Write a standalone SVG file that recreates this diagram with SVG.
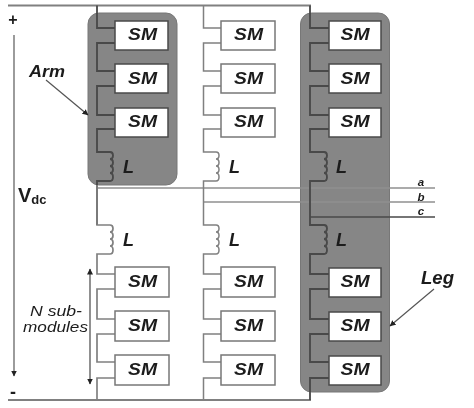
<svg xmlns="http://www.w3.org/2000/svg" width="474" height="408" viewBox="0 0 474 408">
<style>
text{font-family:"Liberation Sans",Arial,sans-serif;fill:#1c1c1c}
.sm{fill:#fff;stroke:#777;stroke-width:1.5}
.smd{fill:#fff;stroke:#4a4a4a;stroke-width:1.5}
.t{font-size:16.5px;font-style:italic;font-weight:bold;text-anchor:middle}
.l{font-size:18px;font-style:italic;font-weight:bold}
.c{fill:none;stroke:#808080;stroke-width:1.5}
.d{fill:none;stroke:#484848;stroke-width:1.8}
.w{fill:none;stroke:#909090;stroke-width:1.4}
.lab{font-style:italic;font-weight:bold;text-anchor:middle}
.p{font-size:11.5px;font-style:italic;font-weight:bold;text-anchor:middle}
.arm{fill:#868686;stroke:#777;stroke-width:1}
</style>
<defs>
<marker id="ah" markerWidth="7" markerHeight="7" refX="5.500" refY="3" orient="auto-start-reverse" markerUnits="userSpaceOnUse"><path d="M0 0L6 3L0 6z" fill="#222"/></marker>
<filter id="soft" x="0" y="0" width="100%" height="100%"><feGaussianBlur stdDeviation="0.5"/></filter>
</defs>
<g filter="url(#soft)">
<rect width="474" height="408" fill="#fff"/>
<g id="arm-highlight"><rect class="arm" x="88" y="13" width="89" height="172" rx="11"/></g>
<g id="leg-highlight"><rect class="arm" x="300.500" y="13" width="89" height="379" rx="11"/></g>
<g id="connectors">
<path class="c" d="M8 5.500H311M8 400H311" style="stroke-width:1.800"/>
<path class="w" d="M97 188H435M203.500 202H435"/>
<path class="d" d="M310 217H435" style="stroke-width:1.500"/>
<path class="d" d="M97 5.500V28H115M115 43H97V71H115M115 86H97V115H115M115 129H97V152H110c4 0 4 7 0 7c4 0 4 7 0 7c4 0 4 7 0 7c4 0 4 8 0 8H97V225"/>
<path class="c" d="M97 185V225H110c4 0 4 7 0 7c4 0 4 7 0 7c4 0 4 7 0 7c4 0 4 8 0 8H97V274H115M115 289H97V319H115M115 334H97V362H115M115 378H97V400" style="stroke-width:1.700"/>
<path class="c" d="M203.500 5.500V28H221M221 43H203.500V71H221M221 86H203.500V115H221M221 129H203.500V152H216c4 0 4 7 0 7c4 0 4 7 0 7c4 0 4 7 0 7c4 0 4 8 0 8H203.500V225H216c4 0 4 7 0 7c4 0 4 7 0 7c4 0 4 7 0 7c4 0 4 8 0 8H203.500V274H221M221 289H203.500V319H221M221 334H203.500V362H221M221 378H203.500V400"/>
<path class="d" d="M310 5.500V28H329M329 43H310V71H329M329 86H310V115H329M329 129H310V152H324c4 0 4 7 0 7c4 0 4 7 0 7c4 0 4 7 0 7c4 0 4 8 0 8H310V225H324c4 0 4 7 0 7c4 0 4 7 0 7c4 0 4 7 0 7c4 0 4 8 0 8H310V274H329M329 289H310V319H329M329 334H310V362H329M329 378H310V400"/>
<path class="c" d="M14 35V376" marker-end="url(#ah)" style="stroke-width:1.300;stroke:#666"/>
<path class="c" d="M90 269V384" marker-start="url(#ah)" marker-end="url(#ah)" style="stroke-width:1.300;stroke:#555"/>
<path class="c" d="M46 80L88 115" marker-end="url(#ah)" style="stroke-width:1.200;stroke:#555"/>
<path class="c" d="M434 289L390 326" marker-end="url(#ah)" style="stroke-width:1.200;stroke:#555"/>
</g>
<g id="sm-1-1"><rect class="smd" x="115" y="21" width="53" height="29"/><text class="t" x="142.500" y="40" textLength="29" lengthAdjust="spacingAndGlyphs">SM</text></g>
<g id="sm-1-2"><rect class="smd" x="115" y="64" width="53" height="29"/><text class="t" x="142.500" y="84" textLength="29" lengthAdjust="spacingAndGlyphs">SM</text></g>
<g id="sm-1-3"><rect class="smd" x="115" y="108" width="53" height="29"/><text class="t" x="142.500" y="127" textLength="29" lengthAdjust="spacingAndGlyphs">SM</text></g>
<g id="sm-1-4"><rect class="sm" x="115" y="267" width="54" height="30"/><text class="t" x="142.500" y="287" textLength="29" lengthAdjust="spacingAndGlyphs">SM</text></g>
<g id="sm-1-5"><rect class="sm" x="115" y="311" width="54" height="30"/><text class="t" x="142.500" y="331" textLength="29" lengthAdjust="spacingAndGlyphs">SM</text></g>
<g id="sm-1-6"><rect class="sm" x="115" y="355" width="54" height="30"/><text class="t" x="142.500" y="375" textLength="29" lengthAdjust="spacingAndGlyphs">SM</text></g>
<g id="sm-2-1"><rect class="sm" x="221" y="21" width="54" height="29"/><text class="t" x="248.500" y="40" textLength="29" lengthAdjust="spacingAndGlyphs">SM</text></g>
<g id="sm-2-2"><rect class="sm" x="221" y="64" width="54" height="29"/><text class="t" x="248.500" y="84" textLength="29" lengthAdjust="spacingAndGlyphs">SM</text></g>
<g id="sm-2-3"><rect class="sm" x="221" y="108" width="54" height="29"/><text class="t" x="248.500" y="127" textLength="29" lengthAdjust="spacingAndGlyphs">SM</text></g>
<g id="sm-2-4"><rect class="sm" x="221" y="267" width="54" height="30"/><text class="t" x="248.500" y="287" textLength="29" lengthAdjust="spacingAndGlyphs">SM</text></g>
<g id="sm-2-5"><rect class="sm" x="221" y="311" width="54" height="30"/><text class="t" x="248.500" y="331" textLength="29" lengthAdjust="spacingAndGlyphs">SM</text></g>
<g id="sm-2-6"><rect class="sm" x="221" y="355" width="54" height="30"/><text class="t" x="248.500" y="375" textLength="29" lengthAdjust="spacingAndGlyphs">SM</text></g>
<g id="sm-3-1"><rect class="smd" x="329" y="21" width="52" height="29"/><text class="t" x="355" y="40" textLength="29" lengthAdjust="spacingAndGlyphs">SM</text></g>
<g id="sm-3-2"><rect class="smd" x="329" y="64" width="52" height="29"/><text class="t" x="355" y="84" textLength="29" lengthAdjust="spacingAndGlyphs">SM</text></g>
<g id="sm-3-3"><rect class="smd" x="329" y="108" width="52" height="29"/><text class="t" x="355" y="127" textLength="29" lengthAdjust="spacingAndGlyphs">SM</text></g>
<g id="sm-3-4"><rect class="smd" x="329" y="268" width="52" height="29"/><text class="t" x="355" y="287" textLength="29" lengthAdjust="spacingAndGlyphs">SM</text></g>
<g id="sm-3-5"><rect class="smd" x="329" y="312" width="52" height="29"/><text class="t" x="355" y="331" textLength="29" lengthAdjust="spacingAndGlyphs">SM</text></g>
<g id="sm-3-6"><rect class="smd" x="329" y="356" width="52" height="29"/><text class="t" x="355" y="375" textLength="29" lengthAdjust="spacingAndGlyphs">SM</text></g>
<g id="labels">
<text class="l" x="123" y="173">L</text><text class="l" x="229" y="173">L</text><text class="l" x="336" y="173">L</text>
<text class="l" x="123" y="246">L</text><text class="l" x="229" y="246">L</text><text class="l" x="336" y="246">L</text>
<text class="lab" x="47" y="77" style="font-size:17px" textLength="36" lengthAdjust="spacingAndGlyphs">Arm</text>
<text class="lab" x="437.500" y="284" style="font-size:18px" textLength="33" lengthAdjust="spacingAndGlyphs">Leg</text>
<text class="lab" x="56" y="316" style="font-size:15px;font-weight:normal" textLength="52" lengthAdjust="spacingAndGlyphs">N sub-</text>
<text class="lab" x="55.500" y="332" style="font-size:15px;font-weight:normal" textLength="65" lengthAdjust="spacingAndGlyphs">modules</text>
<text class="p" x="421" y="186">a</text><text class="p" x="421" y="201">b</text><text class="p" x="421" y="215">c</text>
<text x="18" y="202" style="font-size:20px;font-weight:bold">V<tspan style="font-size:13px" dy="2">dc</tspan></text>
<text x="13" y="25" style="font-size:16px;font-weight:bold;text-anchor:middle">+</text>
<text x="13" y="398" style="font-size:18px;font-weight:bold;text-anchor:middle">-</text>
</g>
</g>
</svg>
